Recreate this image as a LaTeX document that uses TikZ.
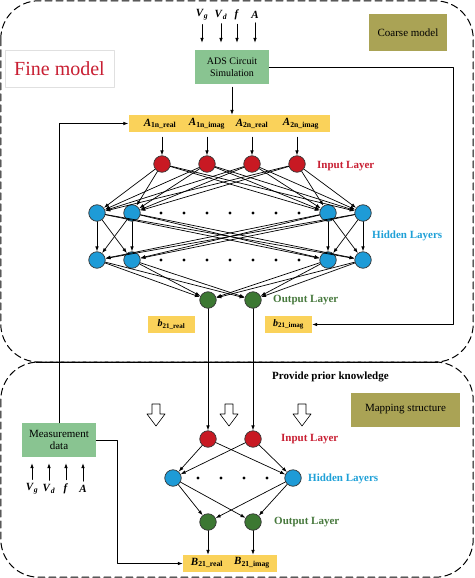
\documentclass[tikz,border=0pt]{standalone}
\usepackage{fontspec}
\setmainfont{Liberation Serif}
\usepackage{xcolor}
\usetikzlibrary{arrows.meta,positioning}
\definecolor{boxgreen}{RGB}{137,196,145}
\definecolor{boxolive}{RGB}{170,163,85}
\definecolor{boxyellow}{RGB}{250,210,90}
\definecolor{nodered}{RGB}{200,25,35}
\definecolor{nodeblue}{RGB}{30,155,215}
\definecolor{nodegreen}{RGB}{60,120,50}
\definecolor{txtred}{RGB}{200,30,50}
\definecolor{txtblue}{RGB}{30,160,215}
\definecolor{txtgreen}{RGB}{70,120,60}
\newcommand{\bv}[1]{\textbf{\textit{#1}}}
\newcommand{\lsub}[1]{\textsubscript{\textbf{#1}}}
\tikzset{
  region/.style={line width=1pt,dash pattern=on 7pt off 4pt,rounded corners=38pt},
  neuron/.style={circle,draw=black!80,line width=0.7pt,minimum size=16.5pt,inner sep=0pt},
  inneuron/.style={neuron,fill=nodered},
  hidneuron/.style={neuron,fill=nodeblue},
  outneuron/.style={neuron,fill=nodegreen},
  greenbox/.style={fill=boxgreen,inner sep=0pt,align=center,font=\fontsize{11}{12.5}\selectfont},
  olivebox/.style={fill=boxolive,inner sep=0pt,font=\fontsize{11}{12.5}\selectfont},
  yellowbox/.style={fill=boxyellow,inner sep=0pt},
  vlabel/.style={inner sep=1pt,font=\fontsize{11}{12}\selectfont},
  layerlabel/.style={anchor=west,inner sep=0pt,font=\fontsize{11}{12}\selectfont\bfseries}
}
\begin{document}
\begin{tikzpicture}[line cap=round,line join=round,>={Latex[length=5pt,width=3.6pt]},x=1pt,y=-1pt]
\useasboundingbox (0,0) rectangle (474,578);
% the two regions
\draw [region] (0.8,0.8) rectangle (473.2,362);
\draw [region] (0.8,362) rectangle (473.2,577.2);
\draw [line width=0.8pt] (36,362) -- (438,362);

% fine model (top)
\node [draw=black!12,line width=0.6pt,minimum width=109pt,minimum height=37pt,inner sep=0pt,
       text=txtred,font=\fontsize{20}{22}\selectfont] (fine) at (59.5,68.5) {Fine model};
\node [olivebox,minimum width=78pt,minimum height=37pt] (coarse) at (408,32.5) {Coarse model};
\node [greenbox,minimum width=74pt,minimum height=34pt,font=\fontsize{10}{11.5}\selectfont] (ads) at (232,67) {ADS Circuit\\Simulation};
\node [vlabel] (vg) at (202,15) {\bv{V}\textsubscript{\bv{g}}};
\node [vlabel] (vd) at (221,15) {\bv{V}\textsubscript{\bv{d}}};
\node [vlabel] (fq) at (237,15) {\bv{f}};
\node [vlabel] (am) at (255,15) {\bv{A}};
\foreach \v in {vg,vd,fq,am}
  \draw [->,line width=0.7pt,shorten <=3pt,shorten >=7pt] (\v.south) -- (\v.south|-ads.north);

\node [yellowbox,minimum width=201pt,minimum height=17pt] (abox) at (229,123.5) {};
\node [vlabel] (a1) at (160,124) {\bv{A}\lsub{1n\_real}};
\node [vlabel] (a2) at (207,124) {\bv{A}\lsub{1n\_imag}};
\node [vlabel] (a3) at (252,124) {\bv{A}\lsub{2n\_real}};
\node [vlabel] (a4) at (301,124) {\bv{A}\lsub{2n\_imag}};
\draw [->,line width=0.7pt,shorten <=3pt] (ads.south) -- (ads.south|-abox.north);

% top network
\node [inneuron] (i1) at (162,164) {};
\node [inneuron] (i2) at (207,164) {};
\node [inneuron] (i3) at (252,164) {};
\node [inneuron] (i4) at (297,164) {};
\node [hidneuron] (h1) at (97,213) {};
\node [hidneuron] (h2) at (132,213) {};
\node [hidneuron] (h3) at (328,213) {};
\node [hidneuron] (h4) at (363,213) {};
\node [hidneuron] (k1) at (97,260) {};
\node [hidneuron] (k2) at (132,260) {};
\node [hidneuron] (k3) at (328,260) {};
\node [hidneuron] (k4) at (363,260) {};
\node [outneuron] (o1) at (208,300) {};
\node [outneuron] (o2) at (253,300) {};
\foreach \n in {1,...,4}
  \draw [->,line width=0.7pt,shorten <=5pt] (i\n|-abox.south) -- (i\n);
\foreach \a in {1,...,4}
  \foreach \b in {1,...,4} {
    \draw [->,line width=0.7pt] (i\a) -- (h\b);
    \draw [->,line width=0.7pt] (h\a) -- (k\b);
  }
\foreach \a in {1,...,4}
  \foreach \b in {1,2}
    \draw [->,line width=0.7pt] (k\a) -- (o\b);
\foreach \x in {161,184,207,230,253,276,299} {
  \fill (\x,213) circle (1.6pt);
  \fill (\x,260) circle (1.6pt);
}
\node [layerlabel,text=txtred] (inlab) at (317,166) {Input Layer};
\node [layerlabel,text=txtblue] (hidlab) at (372,236) {Hidden Layers};
\node [layerlabel,text=txtgreen] (outlab) at (273,300) {Output Layer};

\node [yellowbox,minimum width=47pt,minimum height=17pt] (b1) at (171.5,324.5) {\bv{b}\lsub{21\_real}};
\node [yellowbox,minimum width=47pt,minimum height=17pt] (b2) at (288.5,324.5) {\bv{b}\lsub{21\_imag}};
\coordinate (rc) at (453,324.5);
\draw [->,line width=0.7pt] (ads.east) -| (rc) -- (b2.east);

% mapping structure (bottom)
\node [layerlabel] (prior) at (272,377) {Provide prior knowledge};
\node [olivebox,minimum width=109pt,minimum height=34pt] (mapbox) at (405.5,409.5) {Mapping structure};
\foreach \x in {156,229,302}
  \draw [line width=0.6pt,fill=white] (\x-4,404) -- (\x+4,404) -- (\x+4,414) -- (\x+9,414)
        -- (\x,426) -- (\x-9,414) -- (\x-4,414) -- cycle;

\node [inneuron] (mi1) at (208,439) {};
\node [inneuron] (mi2) at (253,439) {};
\node [hidneuron] (mh1) at (173,478) {};
\node [hidneuron] (mh2) at (293,478) {};
\node [outneuron] (mo1) at (208,522) {};
\node [outneuron] (mo2) at (253,522) {};
\draw [->,line width=0.7pt] (o1) -- (mi1);
\draw [->,line width=0.7pt] (o2) -- (mi2);
\foreach \a in {1,2}
  \foreach \b in {1,2} {
    \draw [->,line width=0.7pt] (mi\a) -- (mh\b);
    \draw [->,line width=0.7pt] (mh\a) -- (mo\b);
  }
\foreach \x in {198,221,244,267}
  \fill (\x,478) circle (1.6pt);
\node [layerlabel,text=txtred] (minlab) at (281,439) {Input Layer};
\node [layerlabel,text=txtblue] (mhidlab) at (308,479) {Hidden Layers};
\node [layerlabel,text=txtgreen] (moutlab) at (274,522) {Output Layer};

\node [yellowbox,minimum width=94pt,minimum height=17pt] (bbox) at (230,563.5) {};
\node [vlabel] (bb1) at (207,563) {\bv{B}\lsub{21\_real}};
\node [vlabel] (bb2) at (252,563) {\bv{B}\lsub{21\_imag}};
\draw [->,line width=0.7pt] (mo1) -- (mo1|-bbox.north);
\draw [->,line width=0.7pt] (mo2) -- (mo2|-bbox.north);

\node [greenbox,minimum width=74pt,minimum height=34pt] (meas) at (59,440) {Measurement\\data};
\node [vlabel] (mvg) at (32,489) {\bv{V}\textsubscript{\bv{g}}};
\node [vlabel] (mvd) at (49,489) {\bv{V}\textsubscript{\bv{d}}};
\node [vlabel] (mfq) at (66,489) {\bv{f}};
\node [vlabel] (mam) at (83,489) {\bv{A}};
\foreach \v in {mvg,mvd,mfq,mam}
  \draw [->,line width=0.7pt,shorten <=3pt,shorten >=6pt] (\v.north) -- (\v.north|-meas.south);
\draw [->,line width=0.7pt] (meas.north) |- (abox.west);
\coordinate (bc) at (117,563.5);
\draw [->,line width=0.7pt] (meas.east) -| (bc) -- (bbox.west);
\end{tikzpicture}
\end{document}
